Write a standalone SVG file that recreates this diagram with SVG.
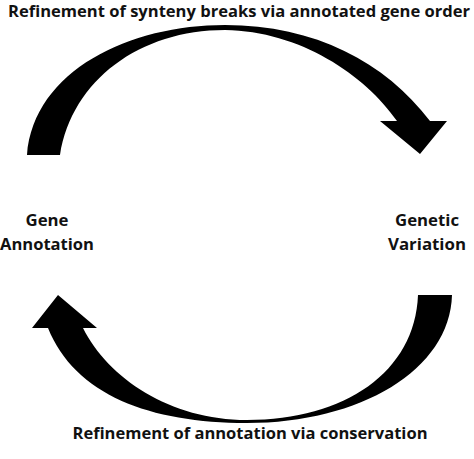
<svg xmlns="http://www.w3.org/2000/svg" width="474" height="459" viewBox="0 0 474 459">
<style>
text{font-family:"Open Sans","Liberation Sans",sans-serif;font-weight:bold;font-size:16px;fill:#111;}
.arrow{fill:#000;}
</style>
<rect width="474" height="459" fill="#fff"/>
<g id="connectors">
<path id="top-arrow" class="arrow" d="M27,155 C34,70 130,25 225,25 C315,25 385,62 430,121 L447,121 L420,154 L380,121 L397,121 C365,75 300,31 225,30 C140,30 72,80 60,155 Z"/>
<path id="bottom-arrow" class="arrow" d="M452,295 C450,370 360,423 247,423 C150,423 75,395 48,328 L32,328 L58,295 L97,328 L83,328 C108,378 170,420 247,420 C345,420 415,372 418,295 Z"/>
</g>
<g id="label-top"><text x="239" y="17" text-anchor="middle" textLength="462" lengthAdjust="spacingAndGlyphs">Refinement of synteny breaks via annotated gene order</text></g>
<g id="node-gene-annotation">
<text x="47" y="226" text-anchor="middle" textLength="43" lengthAdjust="spacingAndGlyphs">Gene</text>
<text x="47" y="250" text-anchor="middle" textLength="94" lengthAdjust="spacingAndGlyphs">Annotation</text>
</g>
<g id="node-genetic-variation">
<text x="427" y="226" text-anchor="middle" textLength="64" lengthAdjust="spacingAndGlyphs">Genetic</text>
<text x="427" y="250" text-anchor="middle" textLength="78" lengthAdjust="spacingAndGlyphs">Variation</text>
</g>
<g id="label-bottom"><text x="250" y="439" text-anchor="middle" textLength="355" lengthAdjust="spacingAndGlyphs">Refinement of annotation via conservation</text></g>
</svg>
